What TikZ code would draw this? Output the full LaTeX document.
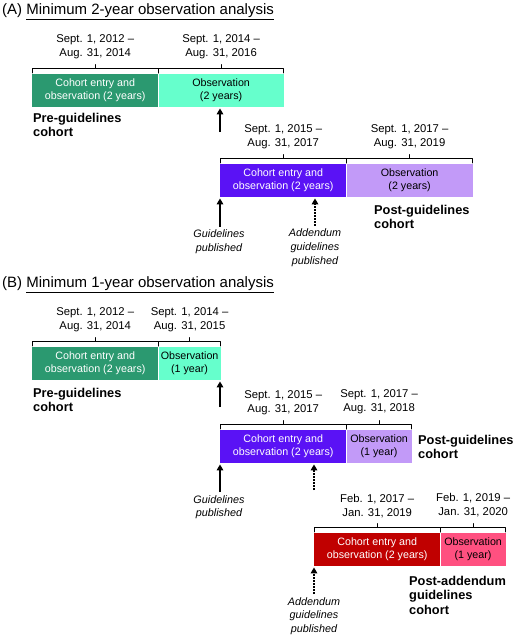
\documentclass[tikz,border=0pt]{standalone}
\usepackage{fontspec}
\setmainfont{Liberation Sans}
\usetikzlibrary{arrows.meta}
\definecolor{dgreen}{HTML}{2B9970}
\definecolor{aqua}{HTML}{66FFCC}
\definecolor{violet}{HTML}{5A12F5}
\definecolor{lilac}{HTML}{C29AF8}
\definecolor{dred}{HTML}{C00000}
\definecolor{pinkc}{HTML}{FF5080}
\newcommand{\tickbrace}[1]{%
  \draw[brk] ([yshift=1pt]#1.north west) -- ([yshift=5.5pt]#1.north west) -- ([yshift=5.5pt]#1.north east) -- ([yshift=1pt]#1.north east);
  \draw[brk] ([yshift=5.5pt]#1.north) -- ([yshift=9.5pt]#1.north);}
\begin{document}
\begin{tikzpicture}[x=1pt,y=-1pt,
  box/.style={draw=none, minimum height=33pt, inner sep=0pt, anchor=north west, align=center, font=\fontsize{10.7}{13}\selectfont},
  date/.style={anchor=south, inner sep=0pt, align=center, font=\fontsize{11.3}{14}\selectfont},
  cohort/.style={anchor=north west, inner sep=0pt, align=left, font=\bfseries\fontsize{12.8}{14.5}\selectfont},
  pub/.style={anchor=north, inner sep=0pt, align=center, font=\itshape\fontsize{10.8}{13.8}\selectfont},
  ttl/.style={anchor=west, inner sep=0pt, font=\fontsize{15}{18}\selectfont},
  brk/.style={line width=0.9pt, line cap=round, line join=round},
  arr/.style={-{Triangle[length=6pt,width=6.5pt]}, line width=1.6pt},
  darr/.style={-{Triangle[length=6pt,width=6.5pt]}, line width=1.5pt, dash pattern=on 1.6pt off 1.4pt}]
\useasboundingbox (0,0) rectangle (520,638);

% ---------------- Panel A ----------------
\node[ttl] (ta) at (2,12) {(A) \underline{Minimum 2-year observation analysis}};

\node[box, fill=dgreen, text=white, minimum width=126pt] (a1) at (32,74) {Cohort entry and\\observation (2 years)};
\node[box, fill=aqua, minimum width=125pt] (a2) at (a1.north east) {Observation\\(2 years)};
\tickbrace{a1}\tickbrace{a2}
\node[date] (da1) at ([yshift=14.6pt]a1.north) {Sept. 1, 2012 --\\Aug. 31, 2014};
\node[date] (da2) at ([yshift=14.6pt]a2.north) {Sept. 1, 2014 --\\Aug. 31, 2016};
\node[cohort] (ca1) at (33,113) {Pre-guidelines\\cohort};

\node[box, fill=violet, text=white, minimum width=126pt] (b1) at (220,164) {Cohort entry and\\observation (2 years)};
\node[box, fill=lilac, minimum width=126pt] (b2) at (b1.north east) {Observation\\(2 years)};
\tickbrace{b1}\tickbrace{b2}
\node[date] (db1) at ([yshift=14.6pt]b1.north) {Sept. 1, 2015 --\\Aug. 31, 2017};
\node[date] (db2) at ([yshift=14.6pt]b2.north) {Sept. 1, 2017 --\\Aug. 31, 2019};
\node[cohort] (cb1) at (374,205) {Post-guidelines\\cohort};

\coordinate (ua) at (220,132);
\draw[arr] (ua) -- ([yshift=-1pt]ua |- a2.south);
\node[pub] (gpa) at (219,229.5) {Guidelines\\published};
\draw[arr] ([yshift=3pt]gpa.north -| b1.south west) -- ([yshift=-1pt]b1.south west);
\node[pub] (ada) at (315,228.5) {Addendum\\guidelines\\published};
\draw[darr] ([yshift=3pt]ada.north) -- ([yshift=-1pt]ada.north |- b1.south);

% ---------------- Panel B ----------------
\node[ttl] (tb) at (2,285) {(B) \underline{Minimum 1-year observation analysis}};

\node[box, fill=dgreen, text=white, minimum width=126pt] (c1) at (32,347) {Cohort entry and\\observation (2 years)};
\node[box, fill=aqua, minimum width=62pt] (c2) at (c1.north east) {Observation\\(1 year)};
\tickbrace{c1}\tickbrace{c2}
\node[date] (dc1) at ([yshift=14.6pt]c1.north) {Sept. 1, 2012 --\\Aug. 31, 2014};
\node[date] (dc2) at ([yshift=14.6pt]c2.north) {Sept. 1, 2014 --\\Aug. 31, 2015};
\node[cohort] (cc1) at (33,388) {Pre-guidelines\\cohort};

\node[box, fill=violet, text=white, minimum width=126pt] (d1) at (220,430) {Cohort entry and\\observation (2 years)};
\node[box, fill=lilac, minimum width=65pt] (d2) at (d1.north east) {Observation\\(1 year)};
\tickbrace{d1}\tickbrace{d2}
\node[date] (dd1) at ([yshift=14.6pt]d1.north) {Sept. 1, 2015 --\\Aug. 31, 2017};
\node[date] (dd2) at ([yshift=15.6pt]d2.north) {Sept. 1, 2017 --\\Aug. 31, 2018};
\node[cohort] (cd1) at (418,435) {Post-guidelines\\cohort};

\coordinate (ub) at (220,407);
\draw[arr] (ub) -- ([yshift=-1pt]ub |- c2.south);
\node[pub] (gpb) at (219,495) {Guidelines\\published};
\draw[arr] ([yshift=3pt]gpb.north -| d1.south west) -- ([yshift=-1pt]d1.south west);

\node[box, fill=dred, text=white, minimum width=126pt] (e1) at (314,533) {Cohort entry and\\observation (2 years)};
\node[box, fill=pinkc, minimum width=65pt] (e2) at (e1.north east) {Observation\\(1 year)};
\tickbrace{e1}\tickbrace{e2}
\node[date] (de1) at ([yshift=14.6pt]e1.north) {Feb. 1, 2017 --\\Jan. 31, 2019};
\node[date] (de2) at ([yshift=15.6pt]e2.north) {Feb. 1, 2019 --\\Jan. 31, 2020};
\node[cohort] (ce1) at (409,576) {Post-addendum\\guidelines\\cohort};

\coordinate (ud) at (314,490);
\draw[darr] (ud) -- ([yshift=-1pt]ud |- d1.south);
\node[pub] (adb) at (314,597) {Addendum\\guidelines\\published};
\draw[darr] ([yshift=3pt]adb.north) -- ([yshift=-1pt]e1.south west);

\end{tikzpicture}
\end{document}
